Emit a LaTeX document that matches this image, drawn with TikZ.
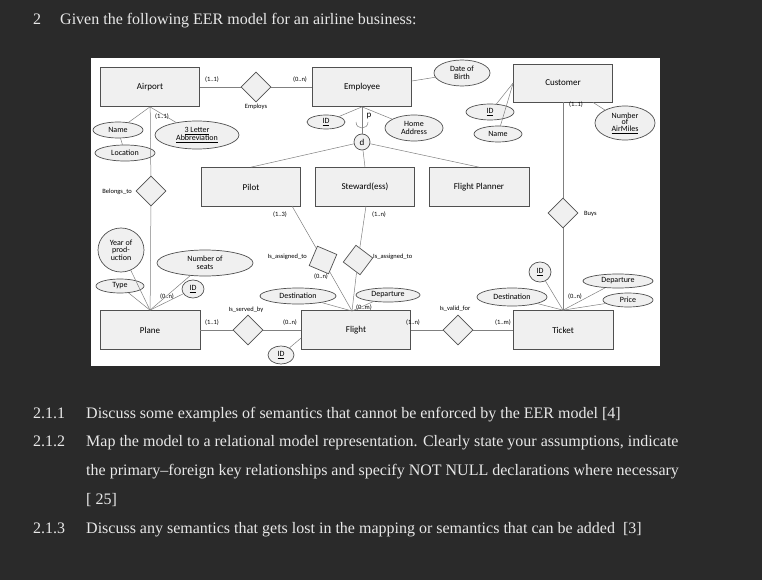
\documentclass[tikz,border=0pt]{standalone}
\usepackage{fontspec}
\setmainfont{Liberation Serif}
\newfontfamily\dg{Carlito}
\usetikzlibrary{shapes.geometric}
\definecolor{bg}{HTML}{2A2A2A}
\definecolor{fg}{HTML}{E8E8E8}
\definecolor{boxf}{HTML}{F0F0F0}
\definecolor{edge}{HTML}{505050}
\begin{document}
\begin{tikzpicture}[x=1pt,y=-1pt,
 ent/.style={draw=edge,fill=boxf,line width=0.7pt,minimum width=99pt,minimum height=39pt,inner sep=0,font=\dg\fontsize{9}{10}\selectfont},
 attr/.style={draw=edge,fill=boxf,ellipse,line width=0.7pt,inner sep=0,align=center,font=\dg\fontsize{8}{8.5}\selectfont},
 rel/.style={draw=edge,fill=boxf,diamond,line width=0.7pt,inner sep=0,minimum width=30pt,minimum height=30pt,shape aspect=1},
 lab/.style={font=\dg\fontsize{6.5}{7}\selectfont,inner sep=0},
 card/.style={font=\dg\fontsize{6.5}{7}\selectfont,inner sep=0},
 ln/.style={draw=gray,line width=0.5pt},
 txt/.style={text=fg,anchor=base west,inner sep=0,font=\fontsize{16}{19}\selectfont}]
\useasboundingbox (0,0) rectangle (762,580);
\fill[bg] (0,0) rectangle (762,580);
\fill[white] (91,58) rectangle (660,366);
% entities
\node[ent] (airport) at (150,87) {Airport};
\node[ent] (employee) at (362,87) {Employee};
\node[ent,minimum height=38pt] (customer) at (563,83) {Customer};
\node[ent] (pilot) at (251,187) {Pilot};
\node[ent] (steward) at (365,187) {Steward(ess)};
\node[ent,minimum width=100pt] (fplanner) at (479,187) {Flight Planner};
\node[ent,minimum width=100pt] (plane) at (150,330) {Plane};
\node[ent,minimum width=109pt] (flight) at (356,330) {Flight};
\node[ent,minimum width=100pt] (ticket) at (563,330) {Ticket};
% relationships
\node[rel] (employs) at (256,87) {};
\node[lab] (employsl) at (256,107) {Employs};
\node[rel] (belongs) at (151,191) {};
\node[lab,anchor=east] (belongsl) at (132,192) {Belongs\_to};
\node[rel,rotate=22] (assign1) at (323,260) {};
\node[lab,anchor=east] (assign1l) at (307,257) {Is\_assigned\_to};
\node[rel,rotate=8] (assign2) at (358,260) {};
\node[lab,anchor=west] (assign2l) at (373,257) {Is\_assigned\_to};
\node[rel] (served) at (248,330) {};
\node[lab] (servedl) at (246,310) {Is\_served\_by};
\node[rel] (valid) at (458,330) {};
\node[lab] (validl) at (455,309) {Is\_valid\_for};
\node[rel] (buys) at (563,213) {};
\node[lab,anchor=west] (buysl) at (584,214) {Buys};
% attributes
\node[attr,minimum width=50pt,minimum height=16pt] (aname) at (118,130) {Name};
\node[attr,minimum width=60pt,minimum height=16pt] (aloc) at (125,153) {Location};
\node[attr,minimum width=84pt,minimum height=28pt] (aabbr) at (197,135) {\underline{3 Letter}\\[-1pt]\underline{Abbreviation}};
\node[attr,minimum width=38pt,minimum height=14pt] (eid) at (326,122) {\underline{ID}};
\node[attr,minimum width=58pt,minimum height=26pt] (ehome) at (414,128) {Home\\[-1pt]Address};
\node[attr,minimum width=56pt,minimum height=26pt] (edob) at (462,73) {Date of\\[-1pt]Birth};
\node[draw=edge,fill=boxf,circle,line width=0.7pt,minimum size=16pt,inner sep=0,font=\dg\fontsize{9}{10}\selectfont] (d) at (362,142) {d};
\node[font=\dg\fontsize{9}{10}\selectfont,inner sep=0] (p) at (369,116) {p};
\node[attr,minimum width=48pt,minimum height=16pt] (cid) at (490,112) {\underline{ID}};
\node[attr,minimum width=48pt,minimum height=16pt] (cname) at (498,134) {Name};
\node[attr,minimum width=60pt,minimum height=34pt] (cmiles) at (625,123) {Number\\[-2pt]of\\[-2pt]\underline{AirMiles}};
\node[attr,minimum width=46pt,minimum height=44pt] (pyear) at (121,250) {Year of\\[-1pt]prod-\\[-1pt]uction};
\node[attr,minimum width=48pt,minimum height=14pt] (ptype) at (120,286) {Type};
\node[attr,minimum width=96pt,minimum height=26pt] (pseats) at (205,263) {Number of\\[-1pt]seats};
\node[attr,minimum width=22pt,minimum height=18pt] (pid) at (193,289) {\underline{ID}};
\node[attr,minimum width=76pt,minimum height=16pt] (fdest) at (298,296) {Destination};
\node[attr,minimum width=64pt,minimum height=14pt] (fdep) at (388,295) {Departure};
\node[attr,minimum width=26pt,minimum height=18pt] (fid) at (281,355) {\underline{ID}};
\node[attr,minimum width=22pt,minimum height=20pt] (tid) at (540,272) {\underline{ID}};
\node[attr,minimum width=70pt,minimum height=18pt] (tdest) at (512,297) {Destination};
\node[attr,minimum width=70pt,minimum height=14pt] (tdep) at (618,281) {Departure};
\node[attr,minimum width=50pt,minimum height=14pt] (tprice) at (628,300) {Price};
% cardinalities
\node[card] (c1) at (212,80) {(1..1)};
\node[card] (c2) at (300,80) {(0..n)};
\node[card] (c3) at (162,117) {(1..1)};
\node[card] (c4) at (576,105) {(1..1)};
\node[card] (c5) at (280,215) {(1..3)};
\node[card] (c6) at (379,215) {(1..n)};
\node[card] (c7) at (321,277) {(0..n)};
\node[card] (c8) at (364,308) {(0..m)};
\node[card] (c9) at (167,297) {(0..n)};
\node[card] (c10) at (212,323) {(1..1)};
\node[card] (c11) at (290,323) {(0..n)};
\node[card] (c12) at (413,323) {(1..n)};
\node[card] (c13) at (503,323) {(1..m)};
\node[card] (c14) at (575,297) {(0..n)};
% connectors (drawn behind by layering order: use on background via order)
\begin{scope}[ln]
\end{scope}
\begin{pgfinterruptboundingbox}\end{pgfinterruptboundingbox}
% lines
\draw[ln] (airport) -- (employs) -- (employee);
\draw[ln] (airport.south) -- (aname);
\draw[ln] (aname) -- (aloc);
\draw[ln] (airport.south) -- (aabbr);
\draw[ln] (airport) -- (belongs) -- (plane);
\draw[ln] (employee.south) -- (eid);
\draw[ln] (employee.south) -- (ehome);
\draw[ln] (employee.south) -- (d);
\draw[ln] (employee.east) ++(0,-6) -- (edob);
\draw[ln] (356,122) .. controls (356,130) and (368,130) .. (368,122);
\draw[ln] (d) -- (pilot.north);
\draw[ln] (d) -- (steward.north);
\draw[ln] (d) -- (fplanner.north);
\draw[ln] (customer.west) -- (cid);
\draw[ln] (customer.west) -- (cname);
\draw[ln] (customer) -- (cmiles);
\draw[ln] (customer) -- (buys) -- (ticket);
\draw[ln] (292,206) -- (assign1);
\draw[ln] (assign1) -- (352,311);
\draw[ln] (366,206) -- (assign2);
\draw[ln] (assign2) -- (352,311);
\draw[ln] (pyear) -- (plane.north);
\draw[ln] (ptype) -- (plane.north);
\draw[ln] (pseats) -- (plane.north);
\draw[ln] (pid) -- (plane.north);
\draw[ln] (plane) -- (served) -- (flight);
\draw[ln] (flight.west) ++(0,8) -- (fid);
\draw[ln] (fdest) -- (352,311);
\draw[ln] (fdep) -- (352,311);
\draw[ln] (flight) -- (valid) -- (ticket);
\draw[ln] (tid) -- (ticket.north);
\draw[ln] (tdest) -- (ticket.north);
\draw[ln] (tdep) -- (ticket.north);
\draw[ln] (tprice) -- (ticket.north);
% text
\node[txt] (h1) at (33,25) {2};
\node[txt] (h2) at (60,25) {Given the following EER model for an airline business:};
\node[txt] (n1) at (33,418) {2.1.1};
\node[txt] (t1) at (86,418) {Discuss some examples of semantics that cannot be enforced by the EER model [4]};
\node[txt] (n2) at (33,446) {2.1.2};
\node[txt] (t2) at (86,446) {Map the model to a relational model representation. Clearly state your assumptions, indicate};
\node[txt] (t3) at (86,475) {the primary--foreign key relationships and specify NOT NULL declarations where necessary};
\node[txt] (t4) at (86,504) {[ 25]};
\node[txt] (n3) at (33,533) {2.1.3};
\node[txt] (t5) at (86,533) {Discuss any semantics that gets lost in the mapping or semantics that can be added\ \ [3]};
\end{tikzpicture}
\end{document}
